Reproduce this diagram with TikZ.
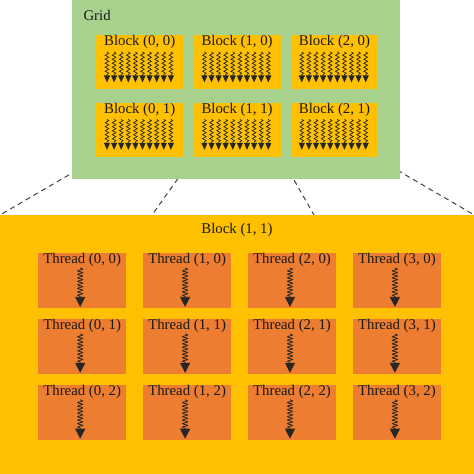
\documentclass[tikz,border=0pt]{standalone}
\usepackage{fontspec}
\setmainfont{Liberation Serif}
\usepackage{tikz}
\usetikzlibrary{arrows.meta, positioning, calc, decorations.pathmorphing, backgrounds}

\definecolor{gridgreen}{HTML}{A9D18E}
\definecolor{blockgold}{HTML}{FFC000}
\definecolor{threadorange}{HTML}{ED7D31}

\begin{document}
\begin{tikzpicture}[
    x=1pt, y=-1pt,
    every node/.style={font=\fontsize{14.8}{17}\selectfont, text=black!90},
    gridbox/.style={rectangle, fill=gridgreen, minimum width=328pt, minimum height=179pt, anchor=north west, inner sep=0pt},
    bigblock/.style={rectangle, fill=blockgold, minimum width=474pt, minimum height=259pt, anchor=north west, inner sep=0pt},
    block/.style={rectangle, fill=blockgold, minimum width=87pt, minimum height=54pt, inner sep=0pt},
    thread/.style={rectangle, fill=threadorange, minimum width=88pt, minimum height=54.5pt, inner sep=0pt},
    toplabel/.style={anchor=north, inner sep=0.5pt},
    blockflow/.style={-{Triangle[width=6pt,length=7pt]}, line width=0.7pt, draw=black!85, decorate,
        decoration={snake, amplitude=1.8pt, segment length=4pt, post length=7pt}},
    threadflow/.style={-{Triangle[width=10pt,length=10pt]}, line width=0.8pt, draw=black!85, decorate,
        decoration={snake, amplitude=2.5pt, segment length=3.5pt, post length=10pt}},
    link/.style={draw=black!75, line width=1pt, dash pattern=on 5pt off 4pt}
]
    \useasboundingbox (0,0) rectangle (474,474);

    % grid of blocks
    \node (grid) [gridbox] at (72,0) {};
    \node [anchor=north west] at (80,7) {Grid};

    \node (b00) [block, anchor=north west, label={[toplabel]north:Block (0, 0)}] at (96,35) {};
    \node (b10) [block, right=10pt of b00, label={[toplabel]north:Block (1, 0)}] {};
    \node (b20) [block, right=10pt of b10, label={[toplabel]north:Block (2, 0)}] {};
    \node (b01) [block, below=13pt of b00, label={[toplabel]north:Block (0, 1)}] {};
    \node (b11) [block, below=13pt of b10, label={[toplabel]north:Block (1, 1)}] {};
    \node (b21) [block, below=13pt of b20, label={[toplabel]north:Block (2, 1)}] {};

    \foreach \b in {b00,b10,b20,b01,b11,b21}
        \foreach \i in {0,...,9}
            \draw [blockflow] ($(\b.north west)+(11+\i*7.1,17)$) -- ($(\b.south west)+(11+\i*7.1,-7)$);

    % zoomed block
    \node (big) [bigblock] at (0,215) {};
    \node (bigtitle) at (237,230) {Block (1, 1)};

    \node (t00) [thread, anchor=north west, label={[toplabel]north:Thread (0, 0)}] at (38,253) {};
    \node (t10) [thread, right=16.5pt of t00, label={[toplabel]north:Thread (1, 0)}] {};
    \node (t20) [thread, right=16.5pt of t10, label={[toplabel]north:Thread (2, 0)}] {};
    \node (t30) [thread, right=16.5pt of t20, label={[toplabel]north:Thread (3, 0)}] {};
    \node (t01) [thread, below=11pt of t00, label={[toplabel]north:Thread (0, 1)}] {};
    \node (t11) [thread, below=11pt of t10, label={[toplabel]north:Thread (1, 1)}] {};
    \node (t21) [thread, below=11pt of t20, label={[toplabel]north:Thread (2, 1)}] {};
    \node (t31) [thread, below=11pt of t30, label={[toplabel]north:Thread (3, 1)}] {};
    \node (t02) [thread, below=11pt of t01, label={[toplabel]north:Thread (0, 2)}] {};
    \node (t12) [thread, below=11pt of t11, label={[toplabel]north:Thread (1, 2)}] {};
    \node (t22) [thread, below=11pt of t21, label={[toplabel]north:Thread (2, 2)}] {};
    \node (t32) [thread, below=11pt of t31, label={[toplabel]north:Thread (3, 2)}] {};

    \foreach \t in {t00,t10,t20,t30,t01,t11,t21,t31,t02,t12,t22,t32}
        \draw [threadflow] ($(\t.north)+(-2,15)$) -- ($(\t.south)+(-2,-1)$);

    % zoom lines behind the grid
    \coordinate (cl) at (152,215);
    \coordinate (cr) at (314,215);
    \begin{pgfonlayer}{background}
        \draw [link] (b11.north west) -- (big.north west);
        \draw [link] (b11.south west) -- (cl);
        \draw [link] (b11.south east) -- (cr);
        \draw [link] (b11.north east) -- (big.north east);
    \end{pgfonlayer}

\end{tikzpicture}
\end{document}
